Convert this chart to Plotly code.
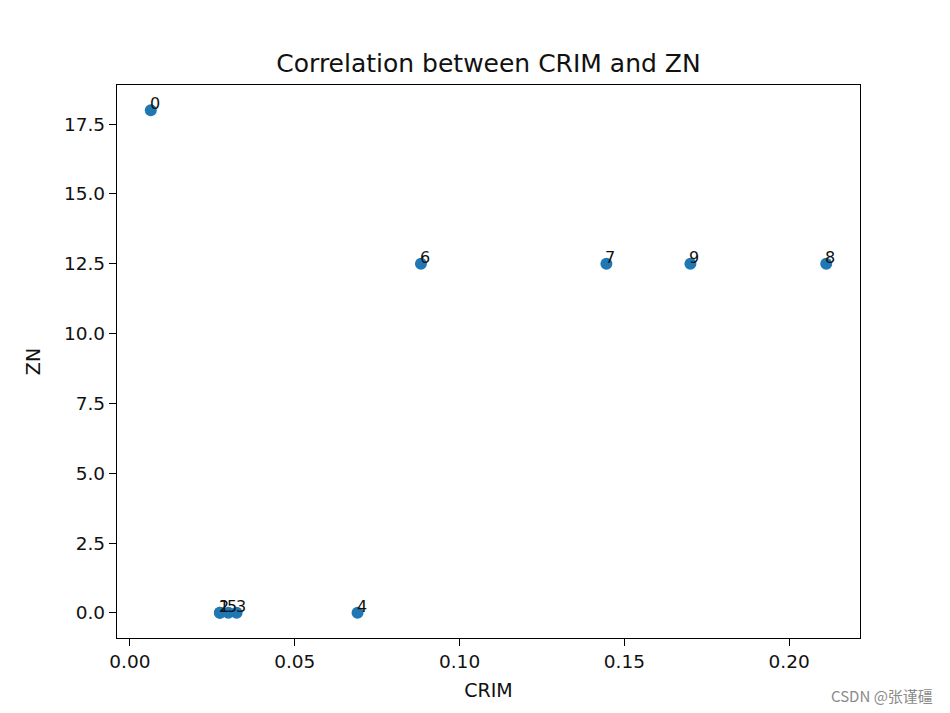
import plotly.graph_objects as go

crim = [0.00632, 0.02731, 0.02729, 0.03237, 0.06905, 0.02985, 0.08829, 0.14455, 0.21124, 0.17004]
zn = [18.0, 0.0, 0.0, 0.0, 0.0, 0.0, 12.5, 12.5, 12.5, 12.5]
labels = [str(i) for i in range(len(crim))]

x_ticks = [0.0, 0.05, 0.10, 0.15, 0.20]
y_ticks = [0.0, 2.5, 5.0, 7.5, 10.0, 12.5, 15.0, 17.5]

FONT = "DejaVu Sans"
L, R, T, B = 109, 98, 77, 83

fig = go.Figure()
fig.add_trace(go.Scatter(
    x=crim, y=zn, mode="markers",
    marker=dict(color="#1f77b4", size=12, line=dict(width=0)),
    hoverinfo="skip", showlegend=False,
))

for xi, yi, lab in zip(crim, zn, labels):
    fig.add_annotation(
        x=xi, y=yi, text=lab, showarrow=False,
        xanchor="left", yanchor="bottom", xshift=-3, yshift=-5,
        font=dict(family=FONT, size=16, color="#111111"),
    )

pw = 950 - L - R
ph = 713 - T - B
fig.add_annotation(
    xref="paper", yref="paper", x=(927 - L) / pw, y=(713 - B - 687) / ph,
    text="CSDN @张谨礓",
    showarrow=False, xanchor="right", yanchor="middle",
    font=dict(family="Noto Sans CJK SC", size=15, color="#8a8a8a"),
)

span = max(crim) - min(crim)
yspan = max(zn) - min(zn)

fig.update_layout(
    width=950, height=713,
    paper_bgcolor="white", plot_bgcolor="white",
    margin=dict(l=L, r=R, t=T, b=B),
    title=dict(text="Correlation between CRIM and ZN", x=(L + pw / 2) / 950,
               xanchor="center", y=1 - 55 / 713, yanchor="middle",
               font=dict(family=FONT, size=25, color="#111111")),
    font=dict(family=FONT, size=18, color="#111111"),
)

fig.update_xaxes(
    range=[min(crim) - 0.05 * span, max(crim) + 0.05 * span],
    tickvals=x_ticks, ticktext=[f"{v:.2f}" for v in x_ticks],
    showgrid=False, zeroline=False,
    showline=True, mirror=True, linecolor="black", linewidth=1.3,
    ticks="outside", ticklen=7, tickwidth=1.3, tickcolor="black",
    title=dict(text="CRIM", font=dict(family=FONT, size=19), standoff=12),
    tickfont=dict(family=FONT, size=18.5),
)
fig.update_yaxes(
    range=[min(zn) - 0.05 * yspan, max(zn) + 0.05 * yspan],
    tickvals=y_ticks, ticktext=[f"{v:.1f}" for v in y_ticks],
    showgrid=False, zeroline=False,
    showline=True, mirror=True, linecolor="black", linewidth=1.3,
    ticks="outside", ticklen=7, tickwidth=1.3, tickcolor="black",
    title=dict(text="ZN", font=dict(family=FONT, size=19), standoff=18),
    tickfont=dict(family=FONT, size=18.5),
)

fig.write_html("out.html")
